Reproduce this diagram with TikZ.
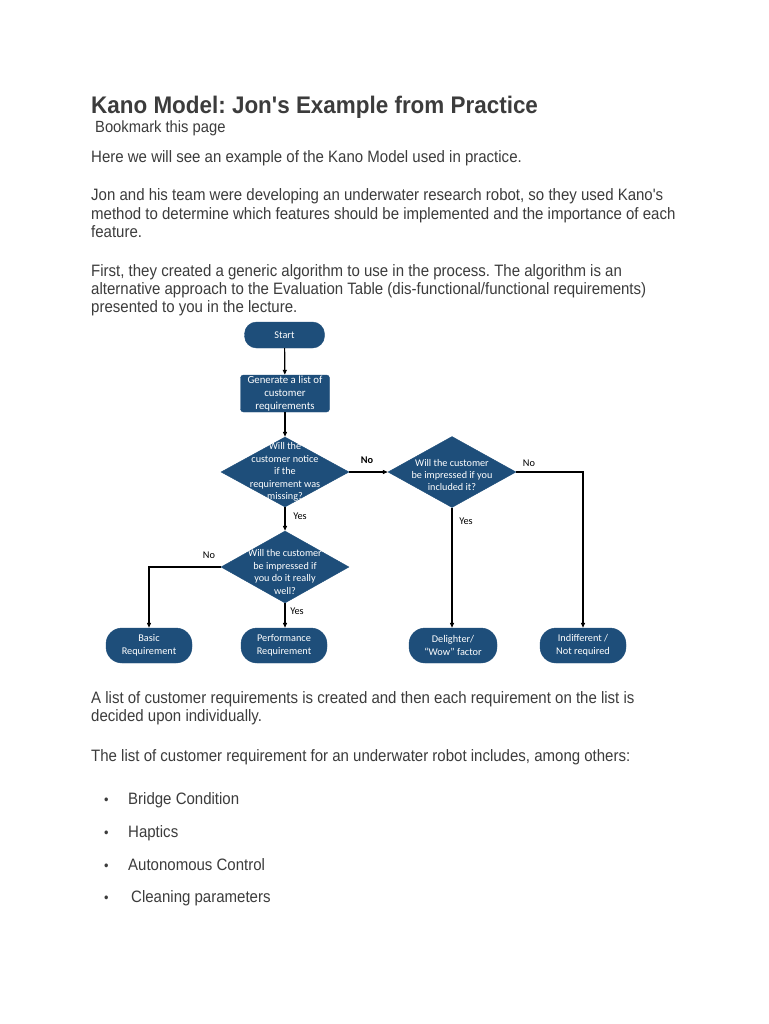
\documentclass[tikz,border=0pt]{standalone}
\usepackage{fontspec}
\newfontfamily\bodyfont{Liberation Sans}[FakeStretch=0.91]
\newfontfamily\titlefont{Liberation Sans}[FakeStretch=0.935]
\newfontfamily\flowfont{Carlito}
\usetikzlibrary{shapes.geometric,arrows.meta}
\definecolor{kblue}{RGB}{30,78,122}
\definecolor{ktext}{RGB}{60,60,60}
\tikzset{
  body/.style={anchor=base west,inner sep=0,text=ktext,font=\bodyfont\fontsize{16.5}{18}\selectfont},
  bul/.style={anchor=base west,inner sep=0,text=ktext,font=\bodyfont\fontsize{14}{16}\selectfont},
  stadium/.style={draw=kblue,fill=kblue,rounded corners=16pt,minimum width=86pt,minimum height=35pt,inner sep=0,text=white,align=center,font=\flowfont\fontsize{10.3}{13}\selectfont},
  gbox/.style={draw=kblue,fill=kblue,rounded corners=3pt,minimum width=89pt,minimum height=37pt,inner sep=0,text=white,align=center,font=\flowfont\fontsize{10.8}{13}\selectfont},
  dia/.style={draw=kblue,fill=kblue,diamond,minimum width=128pt,minimum height=70pt,inner sep=0},
  diatext/.style={text=white,align=center,inner sep=0,font=\flowfont\fontsize{10.2}{12.4}\selectfont},
  flow/.style={draw=black,line width=1.2pt,-{Triangle[length=5pt,width=4pt]}},
  lab/.style={inner sep=0,text=black,font=\flowfont\fontsize{10.3}{12}\selectfont}
}
\frenchspacing
\begin{document}
\begin{tikzpicture}[x=1pt,y=-1pt]
\useasboundingbox[fill=white] (0,0) rectangle (768,1024);
% text
\node[body,font=\titlefont\bfseries\fontsize{24}{28}\selectfont,text=ktext] (title) at (91,114) {Kano Model: Jon's Example from Practice};
\node[body,font=\bodyfont\fontsize{16.2}{18}\selectfont] (bm) at (95,133) {Bookmark this page};
\node[body] (p1) at (91,163) {Here we will see an example of the Kano Model used in practice.};
\node[body] (p2a) at (91,201) {Jon and his team were developing an underwater research robot, so they used Kano's};
\node[body] (p2b) at (91,219) {method to determine which features should be implemented and the importance of each};
\node[body] (p2c) at (91,237) {feature.};
\node[body] (p3a) at (91,276) {First, they created a generic algorithm to use in the process. The algorithm is an};
\node[body] (p3b) at (91,294) {alternative approach to the Evaluation Table (dis-functional/functional requirements)};
\node[body] (p3c) at (91,312) {presented to you in the lecture.};
\node[body] (p4a) at (91,703) {A list of customer requirements is created and then each requirement on the list is};
\node[body] (p4b) at (91,721) {decided upon individually.};
\node[body] (p5) at (91,761) {The list of customer requirement for an underwater robot includes, among others:};
\node[bul] (b1d) at (104,804) {•};
\node[body] (b1) at (128,804) {Bridge Condition};
\node[bul] (b2d) at (104,837) {•};
\node[body] (b2) at (128,837) {Haptics};
\node[bul] (b3d) at (104,870) {•};
\node[body] (b3) at (128,870) {Autonomous Control};
\node[bul] (b4d) at (104,902) {•};
\node[body] (b4) at (131,902) {Cleaning parameters};
% flowchart
\node[stadium,minimum width=80pt,minimum height=26pt,rounded corners=12pt] (start) at (284.5,335) {Start};
\node[gbox] (gen) at (285,393.5) {Generate a list of\\customer\\requirements};
\node[dia] (d1) at (285,472) {};
\node[diatext] at (285,472) {Will the\\customer notice\\if the\\requirement was\\missing?};
\node[dia,minimum height=71pt] (d2) at (452,472) {};
\node[diatext] at (452,475) {Will the customer\\be impressed if you\\included it?};
\node[dia,minimum height=72pt] (d3) at (285,567) {};
\node[diatext] at (285,572) {Will the customer\\be impressed if\\you do it really\\well?};
\node[stadium] (basic) at (149,645.5) {Basic\\Requirement};
\node[stadium] (perf) at (284,645.5) {Performance\\Requirement};
\node[stadium,minimum width=88pt] (del) at (453,645.5) {Delighter/\\“Wow” factor};
\node[stadium] (ind) at (583,645.5) {Indifferent /\\Not required};
\draw[flow] (start) -- (gen);
\draw[flow] (gen) -- (d1);
\draw[flow] (d1.east) -- (d2.west);
\draw[flow] (d1.south) -- (d3.north);
\draw[flow] (d3.south) -- (perf.north -| d3.south);
\draw[flow] (d3.west) -| (basic.north);
\draw[flow] (d2.south) -- (del.north -| d2.south);
\draw[flow] (d2.east) -| (ind.north);
\node[lab,font=\flowfont\bfseries\fontsize{10.3}{12}\selectfont] (no1) at (367,460) {No};
\node[lab] (no2) at (529,463) {No};
\node[lab] (no3) at (209,555) {No};
\node[lab] (yes1) at (300,516) {Yes};
\node[lab] (yes2) at (466,521) {Yes};
\node[lab] (yes3) at (297,611) {Yes};
\end{tikzpicture}
\end{document}
